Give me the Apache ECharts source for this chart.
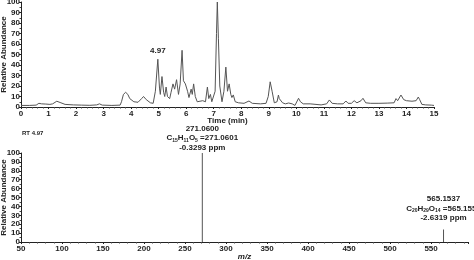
<!DOCTYPE html>
<html><head><meta charset="utf-8">
<script src="https://cdn.jsdelivr.net/npm/echarts@6/dist/echarts.min.js"></script>
<style>html,body{margin:0;padding:0;background:#fff}#c{width:474px;height:260px}</style>
</head><body><div id="c"></div>
<script>
// Chromatogram (time in min, relative abundance %)
const rtTime = [0.0,0.3,0.55,0.65,0.75,0.9,1.05,1.15,1.3,1.45,1.6,1.9,2.2,2.5,2.75,2.85,2.95,3.3,3.6,3.65,3.72,3.8,3.88,3.95,4.1,4.25,4.38,4.45,4.55,4.7,4.8,4.88,4.97,5.03,5.06,5.12,5.18,5.22,5.27,5.32,5.4,5.45,5.52,5.58,5.65,5.72,5.78,5.85,5.9,5.97,6.05,6.1,6.18,6.22,6.27,6.33,6.4,6.5,6.6,6.7,6.77,6.82,6.88,6.93,7.0,7.05,7.1,7.13,7.17,7.22,7.3,7.37,7.44,7.5,7.56,7.62,7.66,7.71,7.78,7.9,8.1,8.28,8.4,8.7,8.9,8.98,9.05,9.12,9.2,9.3,9.35,9.38,9.42,9.5,9.6,9.72,9.85,9.95,10.0,10.08,10.15,10.25,10.5,10.9,11.1,11.2,11.3,11.5,11.7,11.8,11.88,12.0,12.1,12.2,12.35,12.42,12.52,12.7,13.0,13.3,13.55,13.62,13.68,13.8,13.9,14.0,14.2,14.35,14.43,14.48,14.52,14.56,14.7,14.9,15.0];
const rtAbund = [1.5,1.5,1.8,3.5,3,2.8,2.5,3,5.5,4,2.5,2,1.8,1.6,2,3,1.8,1.5,1.8,5,12,14,12,8,5,4.5,8,10,7,4,3.5,15,45.5,18,12,29,14,10,19,10,8,14,22,17,26,12,22,54,25,22,15,9,17,12,22,10,5,5.5,6,5,19,8,12,5,3.5,15,70,100,65,20,5,15,38,15,22,12,9,11.5,5,4,3.5,5.7,3.5,3,3.5,10,24,15,4,5,11.4,8,9,4,3,3.8,3,1.5,2.5,8.3,5,3,3,2,3,6.7,3.5,3,3,5.7,3.5,3.5,6,4,6,8.3,4,3.5,3.5,3.7,4,8,6,11.4,7,6,5.5,6,9.5,7,8.5,2.5,2,1.8,1.5];
const rtPeakLabel = 4.97;
const rtPeakAbund = 45.5;

// Mass spectrum at RT 4.97
const msMz = [271.0600, 565.1537];
const msAbund = [100, 14];
const msMzText = ['271.0600', '565.1537'];
const msFormula = [[['C','15'],['H','11'],['O','5']], [['C','20'],['H','29'],['O','14']]];
const msTheo = ['271.0601', '565.1552'];
const msPpm = ['-0.3293 ppm', '-2.6319 ppm'];
const msLabelGap = [1, 7];

const FONT = 'Liberation Sans';
const axisTxt = {fontFamily: FONT, fontWeight: 'bold', fontSize: 8, color: '#222'};
const lineCol = '#555';

function richLabel(i){
  const f = msFormula[i].map(p => '{b|' + p[0] + '}{s|' + p[1] + '}').join('');
  return '{m|' + msMzText[i] + '}\n' + f + '{b| =' + msTheo[i] + '}\n{b|' + msPpm[i] + '}';
}

function yAxisDef(idx){
  return {gridIndex: idx, type: 'value', min: 0, max: 100, interval: 10,
     name: 'Relative Abundance', nameLocation: 'middle', nameGap: 13, nameRotate: 90,
     nameMoveOverlap: false,
     nameTextStyle: axisTxt,
     axisLine: {show: true, lineStyle: {color: '#222', width: 1}},
     axisTick: {show: true, length: 2, lineStyle: {color: '#222'}},
     minorTick: {show: true, splitNumber: 2, length: 1.5, lineStyle: {color: '#444'}},
     splitLine: {show: false},
     axisLabel: Object.assign({margin: 1}, axisTxt)};
}

const chart = echarts.init(document.getElementById('c'), null, {renderer: 'canvas'});
chart.setOption({
  animation: false,
  backgroundColor: '#fff',
  textStyle: {fontFamily: FONT},
  grid: [
    {left: 21, right: 40, top: 2, bottom: 153, containLabel: false, outerBoundsMode: 'none'},
    {left: 21, right: 6, top: 153, bottom: 18, containLabel: false, outerBoundsMode: 'none'}
  ],
  xAxis: [
    {gridIndex: 0, type: 'value', min: 0, max: 15, interval: 1,
     name: 'Time (min)', nameLocation: 'middle', nameGap: 10, nameMoveOverlap: false,
     nameTextStyle: axisTxt,
     axisLine: {lineStyle: {color: '#222', width: 1}},
     axisTick: {length: 2, lineStyle: {color: '#222'}},
     minorTick: {show: true, splitNumber: 5, length: 1.5, lineStyle: {color: '#444'}},
     splitLine: {show: false},
     axisLabel: Object.assign({margin: 3}, axisTxt)},
    {gridIndex: 1, type: 'value', min: 50, max: 595, interval: 50,
     name: 'm/z', nameLocation: 'middle', nameGap: 11, nameMoveOverlap: false,
     nameTextStyle: Object.assign({}, axisTxt, {fontStyle: 'italic'}),
     axisLine: {lineStyle: {color: '#222', width: 1}},
     axisTick: {length: 2, lineStyle: {color: '#222'}},
     minorTick: {show: true, splitNumber: 5, length: 1.5, lineStyle: {color: '#444'}},
     splitLine: {show: false},
     axisLabel: Object.assign({margin: 3, showMaxLabel: false}, axisTxt)}
  ],
  yAxis: [yAxisDef(0), yAxisDef(1)],
  graphic: [
    {type: 'text', left: 22, top: 130, style: {text: 'RT 4.97', fontFamily: FONT, fontWeight: 'bold', fontSize: 6, fill: '#222'}}
  ],
  series: [
    {type: 'line', xAxisIndex: 0, yAxisIndex: 0, symbol: 'none',
     lineStyle: {color: lineCol, width: 1},
     data: rtTime.map((t, i) => [t, rtAbund[i]]),
     markPoint: {symbol: 'circle', symbolSize: 0,
       data: [{coord: [rtPeakLabel, rtPeakAbund], value: rtPeakLabel}],
       label: {show: true, position: 'top', distance: 4, formatter: String(rtPeakLabel),
               fontFamily: FONT, fontWeight: 'bold', fontSize: 8, color: '#222'}}},
    {type: 'bar', xAxisIndex: 1, yAxisIndex: 1, barWidth: 1,
     itemStyle: {color: lineCol},
     data: msMz.map((m, i) => ({value: [m, msAbund[i]],
       label: {show: true, position: 'top', distance: msLabelGap[i], align: 'center',
         formatter: richLabel(i),
         rich: {
           m: {fontFamily: FONT, fontWeight: 'bold', fontSize: 8, lineHeight: 9, color: '#222', align: 'center'},
           b: {fontFamily: FONT, fontWeight: 'bold', fontSize: 8, lineHeight: 9, color: '#222'},
           s: {fontFamily: FONT, fontWeight: 'bold', fontSize: 5, lineHeight: 10, color: '#222', verticalAlign: 'bottom'}
         }}}))}
  ]
});
</script></body></html>
